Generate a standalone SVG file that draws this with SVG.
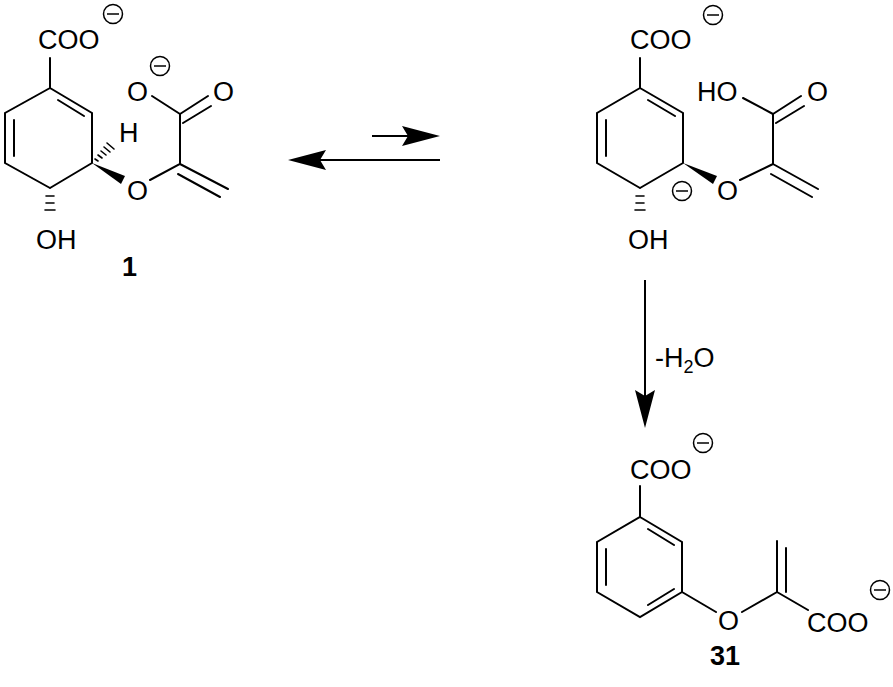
<svg xmlns="http://www.w3.org/2000/svg" width="893" height="687" viewBox="0 0 893 687">
<defs>
<g id="minus"><circle r="9.5" fill="none" stroke="#000" stroke-width="1.5"/><line x1="-6" y1="0" x2="6" y2="0" stroke="#000" stroke-width="1.5"/></g>
</defs>
<style>
.b{stroke:#000;stroke-width:2;fill:none;stroke-linecap:round}
.t{font-family:"Liberation Sans",Arial,sans-serif;font-size:27px;fill:#000}
.n{font-family:"Liberation Sans",Arial,sans-serif;font-size:27px;font-weight:bold;fill:#000}
</style>
<rect width="893" height="687" fill="#fff"/>
<g id="mol1">
<path class="b" d="M50,88 L92,113 L92,163 M50,188 L5,163 L5,113 L50,88 M50,88 L50,58 M58,100 L84,116 M14,120 L14,156 M92,163 L50,188 M150,180 L180,164 L180,114 M180,114 L208,96 M183,123 L211,106 M180,114 L152,96 M180,164 L228,189 M178,174 L220,197"/>
<path d="M92,163 L125,176 L121,184 Z" fill="#000"/>
<path class="b" style="stroke-width:1.6" d="M95,159 L98,161 M98,155 L102,158 M101,151 L106,155 M104,147 L110,152 M107,143 L114,149 M46,196 L54,196 M46,203 L54,203 M45,210 L55,210"/>
<text class="t" x="38" y="49">COO</text>
<use href="#minus" x="113" y="14"/>
<text class="t" x="119" y="142">H</text>
<text class="t" x="127" y="200">O</text>
<text class="t" x="127" y="101">O</text>
<use href="#minus" x="160" y="66"/>
<text class="t" x="213" y="101">O</text>
<text class="t" x="36" y="249">OH</text>
<text class="n" x="122" y="276">1</text>
</g>
<g id="mol2">
<path class="b" d="M640,88 L683,113 L683,163 M640,188 L597,163 L597,113 L640,88 M640,88 L640,58 M648,100 L675,116 M606,120 L606,156 M683,163 L640,188 M740,180 L773,164 L773,114 M773,114 L801,96 M776,123 L804,106 M773,114 L743,98 M773,164 L818,189 M771,174 L812,197"/>
<path d="M683,163 L717,176 L713,184 Z" fill="#000"/>
<path class="b" style="stroke-width:1.6" d="M636,196 L644,196 M636,203 L644,203 M635,210 L645,210"/>
<text class="t" x="630" y="49">COO</text>
<use href="#minus" x="713" y="15"/>
<text class="t" x="717" y="200">O</text>
<use href="#minus" x="682" y="191"/>
<text class="t" x="697" y="101">HO</text>
<text class="t" x="807" y="101">O</text>
<text class="t" x="628" y="249">OH</text>
</g>
<g id="mol31">
<path class="b" d="M640,517 L682,542 L682,592 L640,617 L597,592 L597,542 Z M640,517 L640,486 M648,529 L674,545 M606,549 L606,585 M674,589 L648,605 M682,592 L716,612 M742,612 L777,592 L777,541 M786,548 L786,592 M777,592 L808,610"/>
<text class="t" x="630" y="479">COO</text>
<use href="#minus" x="703" y="443"/>
<text class="t" x="718" y="630">O</text>
<text class="t" x="807" y="632">COO</text>
<use href="#minus" x="880" y="590"/>
<text class="n" x="710" y="665">31</text>
</g>
<g id="connectors">
<line x1="372" y1="136" x2="425" y2="136" stroke="#000" stroke-width="2"/>
<path d="M440,136 L402,126 L408,136 L402,146 Z" fill="#000"/>
<line x1="300" y1="160" x2="440" y2="160" stroke="#000" stroke-width="2"/>
<path d="M288,160 L326,150 L320,160 L326,170 Z" fill="#000"/>
<line x1="645" y1="280" x2="645" y2="400" stroke="#000" stroke-width="2"/>
<path d="M645,428 L635,390 L645,396 L655,390 Z" fill="#000"/>
<text class="t" x="655" y="367">-H<tspan font-size="18" dy="6">2</tspan><tspan dy="-6">O</tspan></text>
</g>
</svg>
